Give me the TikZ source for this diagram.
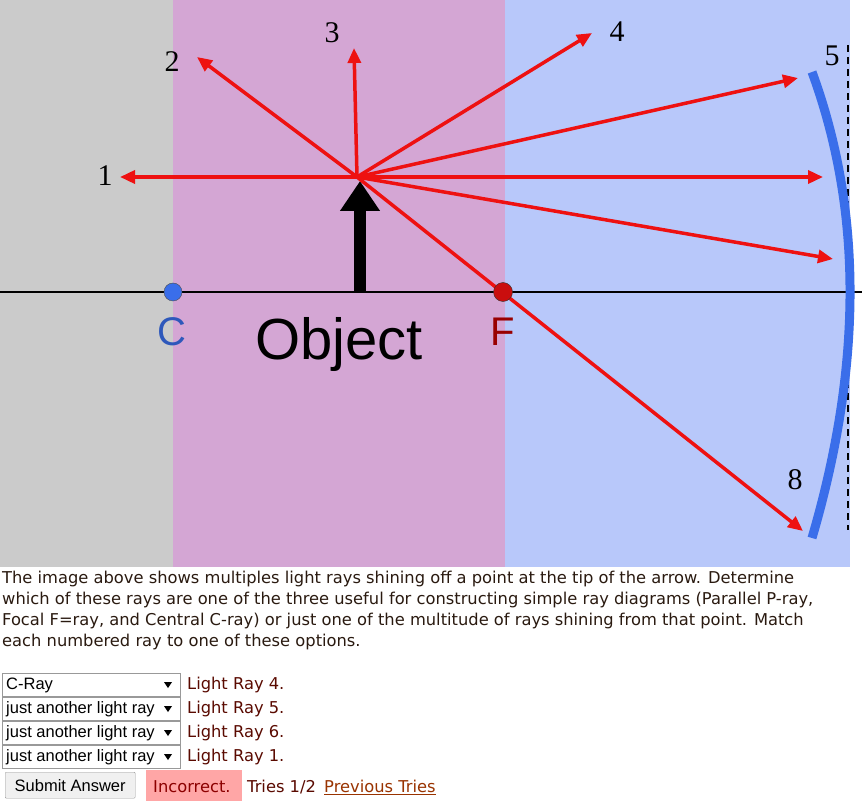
\documentclass[tikz,border=0pt]{standalone}
\usepackage{fontspec}
\setmainfont{Liberation Serif}
\setsansfont{Liberation Sans}
\newfontfamily\verd{DejaVu Sans}
\usetikzlibrary{arrows.meta}
\definecolor{rayred}{HTML}{EE1111}
\definecolor{gbg}{HTML}{CBCBCB}
\definecolor{pbg}{HTML}{D4A6D4}
\definecolor{bbg}{HTML}{B8C8FA}
\definecolor{mirror}{HTML}{3A6EEA}
\definecolor{txt}{HTML}{2A1A10}
\definecolor{lab}{HTML}{5A0A00}
\definecolor{linkc}{HTML}{993300}
\tikzset{
 ray/.style={draw=rayred,line width=3.5pt,-{Triangle[length=15pt,width=13pt]}},
 num/.style={font=\fontsize{30}{30}\selectfont,inner sep=0pt},
 para/.style={font=\verd\fontsize{16.3}{17}\selectfont,text=txt,anchor=west,inner sep=0pt},
 sel/.style={draw=gray!80,fill=white,minimum width=178pt,minimum height=23pt,anchor=north west,inner sep=0pt},
 seltxt/.style={font=\sffamily\fontsize{16.5}{16}\selectfont,anchor=west,inner sep=0pt},
 rl/.style={font=\verd\fontsize{16.3}{17}\selectfont,text=lab,anchor=west,inner sep=0pt}
}
\begin{document}
\begin{tikzpicture}[x=1pt,y=-1pt]
\useasboundingbox (0,0) rectangle (865,802);
\fill[white] (0,0) rectangle (865,802);
\fill[gbg] (0,0) rectangle (173,567);
\fill[pbg] (173,0) rectangle (505,567);
\fill[bbg] (505,0) rectangle (850,567);
\draw[black,line width=1.5pt] (0,292) -- (862,292);
\draw[line width=1.8pt,dash pattern=on 7pt off 5pt] (848,45) -- (848,530);
\draw[mirror,line width=9pt] (812,72) .. controls (862.7,210) and (862.7,365) .. (812,538);
% object arrow
\coordinate (base) at (360,292);
\coordinate (P) at (357,177);
\draw[line width=12pt,-{Triangle[length=30pt,width=38pt]}] (base) -- (360,181);
\coordinate (e1) at (120,177);
\coordinate (e2) at (197,57);
\coordinate (e3) at (354,48);
\coordinate (e4) at (592,33);
\coordinate (e5) at (798,78);
\coordinate (e6) at (823,177);
\coordinate (e7) at (833,259);
\coordinate (e8) at (803,531);
\foreach \e in {e1,e2,e3,e4,e5,e6,e7,e8} \draw[ray] (P) -- (\e);
\node[circle,fill=mirror,draw=black!70,minimum size=18pt,inner sep=0pt] (C) at (173,292) {};
\node[circle,fill=rayred!85!black,draw=black!80,minimum size=19pt,inner sep=0pt] (F) at (503,292) {};
\node[font=\sffamily\fontsize{40}{40}\selectfont,text=mirror!80!black] (Cl) at (172,332) {C};
\node[font=\sffamily\fontsize{58}{58}\selectfont] (Ol) at (339,345) {Object};
\node[font=\sffamily\fontsize{40}{40}\selectfont,text=red!60!black] (Fl) at (503,332) {F};
\node[num] (n1) at (105,176) {1};
\node[num] (n2) at (172,62) {2};
\node[num] (n3) at (332,33) {3};
\node[num] (n4) at (617,32) {4};
\node[num] (n5) at (832,56) {5};
\node[num] (n8) at (795,480) {8};
% text
\node[para] (t1) at (2,579) {The image above shows multiples light rays shining off a point at the tip of the arrow. Determine};
\node[para] (t2) at (2,600) {which of these rays are one of the three useful for constructing simple ray diagrams (Parallel P-ray,};
\node[para] (t3) at (2,621) {Focal F=ray, and Central C-ray) or just one of the multitude of rays shining from that point. Match};
\node[para] (t4) at (2,642) {each numbered ray to one of these options.};
\foreach \y/\s/\r in {673/C-Ray/4, 697/just another light ray/5, 721/just another light ray/6, 745/just another light ray/1}{
 \node[sel] (b\r) at (2,\y) {};
 \node[seltxt] at (6,\y+12) {\s};
 \fill (164,\y+9) -- (172,\y+9) -- (168,\y+15) -- cycle;
 \node[rl] at (187,\y+12) {Light Ray \r.};
}
\node[draw=gray!80,fill=gray!12,rounded corners=1pt,minimum width=130pt,minimum height=26pt,anchor=north west,inner sep=0pt,font=\sffamily\fontsize{16.5}{16}\selectfont] (sub) at (5,772) {Submit Answer};
\fill[red!35] (146,770) rectangle (242,801);
\node[rl,text=red!55!black] (inc) at (153,787) {Incorrect.};
\node[rl] (tr) at (247,787) {Tries 1/2};
\node[rl,text=linkc] (pt) at (324,787) {\underline{Previous Tries}};
\end{tikzpicture}
\end{document}
